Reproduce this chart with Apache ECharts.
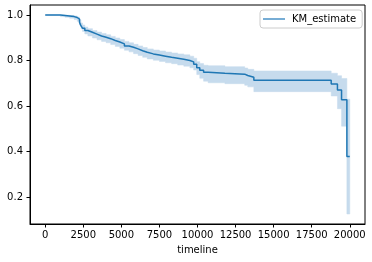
<!DOCTYPE html>
<html>
<head>
<meta charset="utf-8">
<script src="https://cdn.jsdelivr.net/npm/echarts@6/dist/echarts.min.js"></script>
<style>
html,body{margin:0;padding:0;background:#fff;}
#c{width:372px;height:262px;}
</style>
</head>
<body>
<div id="c"></div>
<script>
// Kaplan-Meier estimate (step-post)
const timeline = [0, 1000, 1300, 1600, 1900, 2100, 2250, 2350, 2450, 2600, 2800, 3100, 3400, 3700, 4000, 4300, 4600, 4900, 5200, 5500, 5800, 6100, 6400, 6700, 7100, 7500, 7900, 8300, 8700, 9100, 9500, 9750, 9950, 10150, 10400, 10700, 11800, 13100, 13300, 13700, 18780, 19190, 19460, 19810, 20000];
const kmEstimate = [1.000, 0.998, 0.996, 0.993, 0.989, 0.982, 0.968, 0.952, 0.942, 0.932, 0.924, 0.916, 0.908, 0.902, 0.896, 0.888, 0.881, 0.873, 0.864, 0.858, 0.851, 0.843, 0.836, 0.829, 0.824, 0.819, 0.814, 0.810, 0.805, 0.800, 0.794, 0.784, 0.768, 0.757, 0.748, 0.744, 0.740, 0.734, 0.726, 0.713, 0.697, 0.670, 0.627, 0.378, 0.378];
const ciUpper = [1.000, 1.000, 0.999, 0.998, 0.996, 0.991, 0.979, 0.965, 0.956, 0.947, 0.940, 0.932, 0.925, 0.919, 0.913, 0.906, 0.899, 0.892, 0.884, 0.878, 0.871, 0.864, 0.857, 0.851, 0.846, 0.842, 0.837, 0.833, 0.829, 0.825, 0.819, 0.810, 0.795, 0.787, 0.779, 0.777, 0.773, 0.767, 0.761, 0.754, 0.744, 0.733, 0.721, 0.630, 0.630];
const ciLower = [1.000, 0.993, 0.990, 0.986, 0.980, 0.972, 0.956, 0.939, 0.928, 0.917, 0.908, 0.899, 0.891, 0.884, 0.878, 0.870, 0.862, 0.854, 0.845, 0.838, 0.830, 0.822, 0.814, 0.807, 0.801, 0.796, 0.790, 0.786, 0.780, 0.775, 0.768, 0.758, 0.738, 0.722, 0.709, 0.702, 0.698, 0.691, 0.684, 0.663, 0.644, 0.588, 0.511, 0.125, 0.125];
const xTicks = [0, 2500, 5000, 7500, 10000, 12500, 15000, 17500, 20000];
const yTicks = [0.2, 0.4, 0.6, 0.8, 1.0];

const lineData = timeline.map((t, i) => [t, kmEstimate[i]]);

const font = 'DejaVu Sans';
const chart = echarts.init(document.getElementById('c'), null, {renderer: 'canvas'});

function renderBand(params, api) {
  const up = [], lo = [];
  for (let i = 0; i < timeline.length; i++) {
    const tNext = i + 1 < timeline.length ? timeline[i + 1] : timeline[i];
    up.push(api.coord([timeline[i], ciUpper[i]]));
    up.push(api.coord([tNext, ciUpper[i]]));
    lo.push(api.coord([timeline[i], ciLower[i]]));
    lo.push(api.coord([tNext, ciLower[i]]));
  }
  const pts = up.concat(lo.reverse());
  return {type: 'polygon', shape: {points: pts}, style: {fill: '#c6dbed', stroke: '#c6dbed', lineWidth: 0.5}, silent: true};
}

chart.setOption({
  animation: false,
  backgroundColor: '#fff',
  grid: {left: 30, right: 7, top: 5, bottom: 38, show: true, borderColor: '#000', borderWidth: 1, backgroundColor: 'transparent'},
  xAxis: {
    type: 'value', min: -1000, max: 21000,
    name: 'timeline', nameLocation: 'middle', nameGap: 21,
    nameTextStyle: {fontFamily: font, fontSize: 10, color: '#000'},
    axisLine: {show: true, onZero: false, lineStyle: {color: '#000', width: 1}},
    axisTick: {show: true, length: 3.5, inside: false, customValues: xTicks, lineStyle: {color: '#000'}},
    axisLabel: {customValues: xTicks, margin: 6, fontFamily: font, fontSize: 10, color: '#000',
      formatter: v => String(v)},
    splitLine: {show: false}
  },
  yAxis: {
    type: 'value', min: 0.081, max: 1.044,
    axisLine: {show: true, onZero: false, lineStyle: {color: '#000', width: 1}},
    axisTick: {show: true, length: 3.5, customValues: yTicks, lineStyle: {color: '#000'}},
    axisLabel: {customValues: yTicks, margin: 7, fontFamily: font, fontSize: 10, color: '#000',
      formatter: v => v.toFixed(1)},
    splitLine: {show: false}
  },
  legend: {
    data: ['KM_estimate'],
    left: 260, top: 10,
    padding: [4, 6, 4, 3],
    itemWidth: 22, itemHeight: 10,
    icon: 'path://M0,0 L22,0 L22,1.5 L0,1.5 Z',
    borderColor: '#cccccc', borderWidth: 1, borderRadius: 3,
    textStyle: {fontFamily: font, fontSize: 10, color: '#000', padding: [0, 0, 0, 2]}
  },
  series: [
    {name: 'ci', type: 'custom', renderItem: renderBand, data: [[0, 1]], silent: true, z: 1},
    {name: 'KM_estimate', type: 'line', step: 'end', data: lineData, symbol: 'none',
      color: '#1f77b4', lineStyle: {width: 1.5, color: '#1f77b4'}, itemStyle: {color: '#4a92c7'}, z: 3}
  ]
});
</script>
</body>
</html>
